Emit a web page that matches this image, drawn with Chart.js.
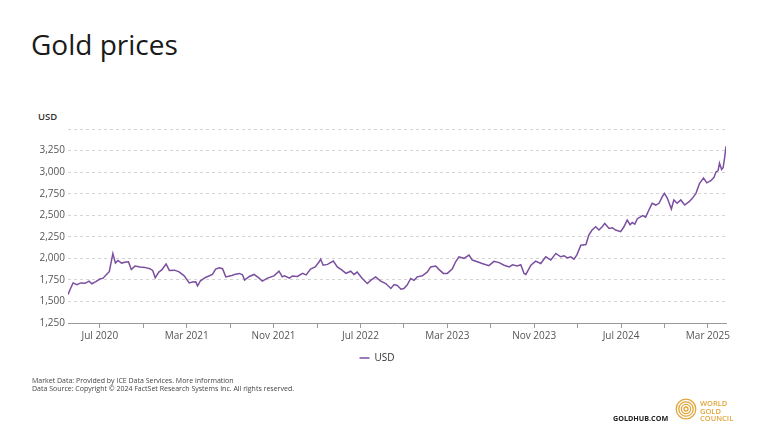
<!DOCTYPE html>
<html>
<head>
<meta charset="utf-8">
<title>Gold prices</title>
<script src="https://cdn.jsdelivr.net/npm/chart.js@4.4.0/dist/chart.umd.min.js"></script>
<style>
  html, body { margin: 0; padding: 0; background: #fff; }
  body { width: 768px; height: 433px; position: relative; overflow: hidden; font-family: 'Open Sans', sans-serif; }
  #gold-chart { position: absolute; left: 0; top: 0; }
  .title { position: absolute; left: 31px; top: 30px; font-size: 28px; line-height: 28px; color: #1a1a1a; white-space: nowrap; }
  .unit { position: absolute; left: 38px; top: 111px; font-size: 9.5px; line-height: 12px; font-weight: 600; color: #333; }
  .notes { position: absolute; left: 32px; top: 377px; font-size: 7px; line-height: 8px; color: #444; white-space: nowrap; }
  .site { position: absolute; left: 613px; top: 414px; font-size: 7.2px; line-height: 9px; font-weight: 700; color: #222; }
  .logo { position: absolute; left: 675px; top: 398px; }
  .logo-text { position: absolute; left: 700px; top: 400px; font-size: 7.5px; line-height: 7.6px; font-weight: 600; color: #e2a53a; }
</style>
</head>
<body>
<div class="title">Gold prices</div>
<div class="unit">USD</div>
<canvas id="gold-chart" width="768" height="433"></canvas>
<div class="notes">Market Data: Provided by ICE Data Services. More information<br>Data Source: Copyright © 2024 FactSet Research Systems Inc. All rights reserved.</div>
<div class="site">GOLDHUB.COM</div>
<svg class="logo" width="22" height="22" viewBox="0 0 22 22">
  <g fill="none" stroke="#e2a53a" stroke-width="1.3">
    <circle cx="11" cy="11" r="9.8"/>
    <circle cx="11" cy="11" r="7.2"/>
    <circle cx="11" cy="11" r="4.6"/>
    <circle cx="11" cy="11" r="2"/>
  </g>
</svg>
<div class="logo-text">WORLD<br>GOLD<br>COUNCIL</div>

<script>
// Weekly-ish gold price readings (USD / oz)
const dates = [
  '2020-04-03', '2020-04-10', '2020-04-17', '2020-04-28', '2020-05-08', '2020-05-20',
  '2020-06-01', '2020-06-09', '2020-06-20', '2020-07-01', '2020-07-10', '2020-07-20',
  '2020-07-27', '2020-08-03', '2020-08-07', '2020-08-14', '2020-08-21', '2020-08-31',
  '2020-09-10', '2020-09-20', '2020-09-28', '2020-10-08', '2020-10-22', '2020-11-05',
  '2020-11-19', '2020-11-27', '2020-12-04', '2020-12-14', '2020-12-22', '2021-01-04',
  '2021-01-13', '2021-01-27', '2021-02-10', '2021-02-24', '2021-03-08', '2021-03-17',
  '2021-03-26', '2021-03-31', '2021-04-09', '2021-04-23', '2021-05-12', '2021-05-21',
  '2021-06-01', '2021-06-10', '2021-06-19', '2021-07-03', '2021-07-13', '2021-07-27',
  '2021-08-05', '2021-08-11', '2021-08-24', '2021-09-07', '2021-09-21', '2021-09-30',
  '2021-10-14', '2021-11-02', '2021-11-16', '2021-11-25', '2021-12-01', '2021-12-15',
  '2021-12-23', '2022-01-07', '2022-01-21', '2022-01-31', '2022-02-13', '2022-02-26',
  '2022-03-07', '2022-03-11', '2022-03-18', '2022-03-30', '2022-04-16', '2022-04-27',
  '2022-05-11', '2022-05-21', '2022-06-04', '2022-06-13', '2022-06-22', '2022-07-06',
  '2022-07-20', '2022-07-30', '2022-08-13', '2022-08-27', '2022-09-11', '2022-09-25',
  '2022-10-04', '2022-10-13', '2022-10-23', '2022-11-01', '2022-11-10', '2022-11-20',
  '2022-11-29', '2022-12-08', '2022-12-22', '2023-01-06', '2023-01-15', '2023-01-29',
  '2023-02-07', '2023-02-20', '2023-03-01', '2023-03-15', '2023-03-24', '2023-04-03',
  '2023-04-17', '2023-05-01', '2023-05-10', '2023-05-24', '2023-06-07', '2023-06-26',
  '2023-07-10', '2023-07-24', '2023-08-08', '2023-08-22', '2023-08-31', '2023-09-14',
  '2023-09-24', '2023-10-03', '2023-10-08', '2023-10-22', '2023-11-05', '2023-11-19',
  '2023-12-03', '2023-12-17', '2023-12-31', '2024-01-14', '2024-01-24', '2024-02-02',
  '2024-02-12', '2024-02-21', '2024-02-29', '2024-03-10', '2024-03-24', '2024-04-02',
  '2024-04-11', '2024-04-21', '2024-04-30', '2024-05-09', '2024-05-16', '2024-05-28',
  '2024-06-07', '2024-06-16', '2024-06-30', '2024-07-09', '2024-07-18', '2024-07-26',
  '2024-08-02', '2024-08-09', '2024-08-16', '2024-08-31', '2024-09-09', '2024-09-18',
  '2024-09-27', '2024-10-07', '2024-10-16', '2024-10-25', '2024-11-01', '2024-11-09',
  '2024-11-20', '2024-11-27', '2024-12-06', '2024-12-16', '2024-12-27', '2025-01-09',
  '2025-01-18', '2025-01-28', '2025-02-08', '2025-02-19', '2025-02-28', '2025-03-09',
  '2025-03-18', '2025-03-23', '2025-03-29', '2025-04-03', '2025-04-09', '2025-04-13',
  '2025-04-17', '2025-04-21'
];

const usd = [
  1580, 1650, 1715, 1695, 1715, 1710,
  1735, 1705, 1730, 1760, 1770, 1815,
  1845, 1970, 2055, 1945, 1975, 1945,
  1955, 1960, 1870, 1910, 1900, 1895,
  1880, 1860, 1775, 1840, 1865, 1935,
  1860, 1863, 1843, 1797, 1715, 1725,
  1727, 1680, 1740, 1778, 1813, 1875,
  1890, 1880, 1785, 1797, 1813, 1825,
  1810, 1747, 1790, 1813, 1770, 1735,
  1770, 1797, 1851, 1785, 1797, 1770,
  1795, 1790, 1825, 1808, 1875, 1900,
  1960, 1990, 1920, 1930, 1968, 1900,
  1860, 1825, 1850, 1813, 1840, 1766,
  1708, 1747, 1785, 1735, 1708, 1650,
  1695, 1685, 1642, 1650, 1690, 1766,
  1745, 1785, 1797, 1843, 1900, 1910,
  1875, 1825, 1825, 1880, 1960, 2018,
  2000, 2037, 1980, 1960, 1940, 1915,
  1965, 1950, 1920, 1901, 1925, 1912,
  1925, 1825, 1813, 1921, 1968, 1940,
  2018, 1980, 2057, 2018, 2030, 2005,
  2018, 1990, 2040, 2153, 2160, 2270,
  2328, 2366, 2328, 2366, 2405, 2347,
  2355, 2328, 2310, 2366, 2444, 2390,
  2415, 2397, 2460, 2495, 2478, 2560,
  2638, 2618, 2638, 2715, 2754, 2696,
  2572, 2677, 2638, 2677, 2618, 2657,
  2696, 2754, 2870, 2930, 2875, 2900,
  2940, 3000, 3017, 3104, 3030, 3050,
  3162, 3300
];

const tickLabels = ['Jul 2020', 'Mar 2021', 'Nov 2021', 'Jul 2022', 'Mar 2023', 'Nov 2023', 'Jul 2024', 'Mar 2025'];
const yTicks = [1250, 1500, 1750, 2000, 2250, 2500, 2750, 3000, 3250, 3500];

const LINE = '#7b4f9f';
const MONTHS = ['Jan', 'Feb', 'Mar', 'Apr', 'May', 'Jun', 'Jul', 'Aug', 'Sep', 'Oct', 'Nov', 'Dec'];

// months since Jan 2020, as a decimal
function monthIndex(d) {
    const [y, m, day] = d.split('-').map(Number);
    return (y - 2020) * 12 + (m - 1) + (day - 1) / 30;
}
function labelIndex(lbl) {
    const [mon, yr] = lbl.split(' ');
    return (Number(yr) - 2020) * 12 + MONTHS.indexOf(mon);
}

const points = dates.map((d, i) => ({ x: monthIndex(d), y: usd[i] }));
const xMin = points[0].x;
const xMax = points[points.length - 1].x;

// labelled ticks every 8 months, plain tick marks halfway between
const tickPositions = [];
tickLabels.forEach(l => {
    const v = labelIndex(l);
    tickPositions.push(v);
    if (v + 4 <= xMax) tickPositions.push(v + 4);
});

const ctx = document.getElementById('gold-chart').getContext('2d');
Chart.defaults.font.family = "'Open Sans', sans-serif";

new Chart(ctx, {
    type: 'line',
    data: {
        datasets: [{
            label: 'USD',
            data: points,
            borderColor: LINE,
            backgroundColor: LINE,
            borderWidth: 1.5,
            pointRadius: 0,
            tension: 0
        }]
    },
    options: {
        responsive: false,
        animation: false,
        layout: { padding: { top: 129, left: 28, right: 42, bottom: 60 } },
        plugins: {
            legend: {
                position: 'bottom',
                labels: {
                    usePointStyle: true,
                    pointStyle: 'line',
                    pointStyleWidth: 10,
                    padding: 10,
                    color: '#333',
                    font: { size: 10 }
                }
            },
            tooltip: { enabled: false }
        },
        scales: {
            x: {
                type: 'linear',
                min: xMin,
                max: xMax,
                afterBuildTicks: axis => {
                    axis.ticks = tickPositions.map(v => ({ value: v }));
                },
                afterFit: axis => { axis.height = 20; },
                ticks: {
                    autoSkip: false,
                    maxRotation: 0,
                    padding: 2,
                    color: '#555',
                    font: { size: 10 },
                    callback: value => {
                        const hit = tickLabels.find(l => labelIndex(l) === value);
                        return hit || '';
                    }
                },
                grid: { drawOnChartArea: false, tickLength: 5, color: '#9a9a9a' },
                border: { color: '#9a9a9a' }
            },
            y: {
                min: yTicks[0],
                max: yTicks[yTicks.length - 1],
                afterFit: axis => { axis.width = 40; },
                ticks: {
                    stepSize: 250,
                    padding: 3,
                    color: '#555',
                    font: { size: 10 },
                    callback: value => value === 3500 ? '' : value.toLocaleString('en-US')
                },
                grid: { drawTicks: false, color: '#d4d4d4' },
                border: { display: false, dash: [3, 3] }
            }
        }
    }
});
</script>
</body>
</html>
